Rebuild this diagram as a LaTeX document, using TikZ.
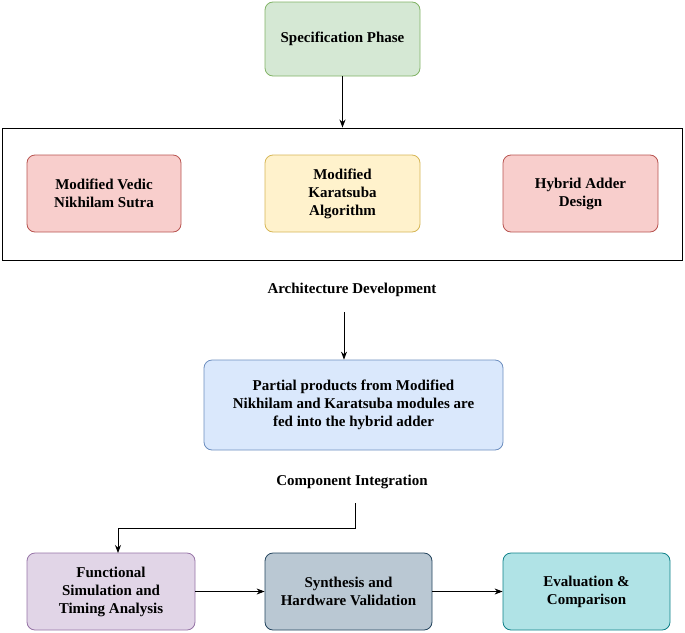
\documentclass[tikz,border=0pt]{standalone}
\usepackage{fontspec}
\setmainfont{Liberation Serif}
\usetikzlibrary{arrows.meta}
\begin{document}
\begin{tikzpicture}[x=1pt,y=-1pt,
 box/.style={draw,rounded corners=8pt,line width=0.8pt,align=center,font=\bfseries\fontsize{15}{18}\selectfont,inner sep=2pt},
 lbl/.style={font=\bfseries\fontsize{15}{18}\selectfont},
 arr/.style={-{Stealth[length=8pt,width=6pt]},line width=0.9pt}]
\useasboundingbox (0,0) rectangle (685,632);
\definecolor{gf}{HTML}{D5E8D4}\definecolor{gs}{HTML}{82B366}
\definecolor{rf}{HTML}{F8CECC}\definecolor{rs}{HTML}{B85450}
\definecolor{yf}{HTML}{FFF2CC}\definecolor{ys}{HTML}{D6B656}
\definecolor{bf}{HTML}{DAE8FC}\definecolor{bs}{HTML}{6C8EBF}
\definecolor{pf}{HTML}{E1D5E7}\definecolor{ps}{HTML}{9673A6}
\definecolor{df}{HTML}{BAC8D3}\definecolor{ds}{HTML}{23445D}
\definecolor{tf}{HTML}{B0E3E6}\definecolor{ts}{HTML}{0E8088}
\node[box,fill=gf,draw=gs,minimum width=155pt,minimum height=74pt] (spec) at (342.5,39) {Specification Phase};
\node[draw,line width=0.9pt,minimum width=680pt,minimum height=132pt] (arch) at (342,194) {};
\node[box,fill=rf,draw=rs,minimum width=154pt,minimum height=77pt] (nik) at (104,193.5) {Modified Vedic\\Nikhilam Sutra};
\node[box,fill=yf,draw=ys,minimum width=155pt,minimum height=77pt] (kar) at (342.5,193.5) {Modified\\Karatsuba\\Algorithm};
\node[box,fill=rf,draw=rs,minimum width=155pt,minimum height=77pt] (hyb) at (580.5,193.5) {Hybrid Adder\\Design};
\node[lbl] (archlbl) at (352,290) {Architecture Development};
\node[box,fill=bf,draw=bs,minimum width=299pt,minimum height=90pt] (pp) at (353.5,405) {Partial products from Modified\\Nikhilam and Karatsuba modules are\\fed into the hybrid adder};
\node[lbl] (complbl) at (352,482) {Component Integration};
\node[box,fill=pf,draw=ps,minimum width=168pt,minimum height=77pt] (fs) at (111,591.5) {Functional\\Simulation and\\Timing Analysis};
\node[box,fill=df,draw=ds,minimum width=167pt,minimum height=77pt] (syn) at (348.5,591.5) {Synthesis and\\Hardware Validation};
\node[box,fill=tf,draw=ts,minimum width=167pt,minimum height=77pt] (ev) at (586.5,591.5) {Evaluation \&\\Comparison};
\coordinate (a1) at (344,312);
\coordinate (c1) at (355,503);
\draw[arr] (spec.south) -- (arch.north -| spec.south);
\draw[arr] (a1) -- (a1 |- pp.north);
\draw[arr] (c1) -- (355,528) -- (118,528) -- (118,553);
\draw[arr] (fs) -- (syn);
\draw[arr] (syn) -- (ev);
\end{tikzpicture}
\end{document}
